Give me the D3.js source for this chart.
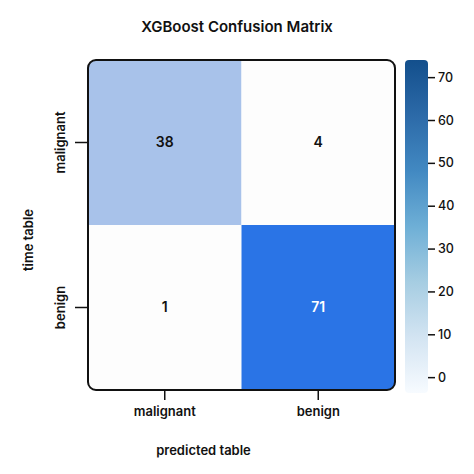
<!DOCTYPE html>
<html>
<head>
<meta charset="utf-8">
<script src="https://cdn.jsdelivr.net/npm/d3@7"></script>
<style>
  body { margin: 0; background: #fff; }
  text { font-family: Inter, "DejaVu Sans", sans-serif; fill: #111; }
</style>
</head>
<body>
<div id="chart"></div>
<script>
// confusion matrix values (rows = true, cols = predicted)
var classes = ["malignant", "benign"];
var counts = [[38, 4], [1, 71]];
var colorbarTicks = [0, 10, 20, 30, 40, 50, 60, 70];
var cellColors = ["#fdfdfd", "#fdfdfd", "#a8c2ea", "#2a74e6"];
var barColors = ["#f7fbff", "#d3e4f2", "#a6cde2", "#6eafd6", "#4289c2", "#2c6aa8", "#134f8c"];

var width = 474, height = 474;
var box = {left: 88, top: 60, right: 395, bottom: 390};

var svg = d3.select("#chart").append("svg")
    .attr("width", width)
    .attr("height", height);

svg.append("text")
    .attr("x", 237)
    .attr("y", 32)
    .attr("text-anchor", "middle")
    .style("font-size", "15px")
    .style("font-weight", 600)
    .text("XGBoost Confusion Matrix");

var x = d3.scaleBand().domain(classes).range([box.left, box.right]);
var y = d3.scaleBand().domain(classes).range([box.top, box.bottom]);

var cellColor = d3.scaleLinear()
    .domain([0, 5, 38, 71])
    .range(cellColors);

var cells = [];
counts.forEach(function(row, i) {
    row.forEach(function(v, j) {
        cells.push({row: classes[i], col: classes[j], value: v});
    });
});

svg.append("clipPath").attr("id", "boxclip")
    .append("rect")
    .attr("x", box.left).attr("y", box.top)
    .attr("width", box.right - box.left).attr("height", box.bottom - box.top)
    .attr("rx", 8);

var g = svg.append("g").attr("clip-path", "url(#boxclip)");

g.selectAll(".cell")
    .data(cells)
    .enter().append("rect")
    .attr("class", "cell")
    .attr("x", function(d) { return x(d.col); })
    .attr("y", function(d) { return y(d.row); })
    .attr("width", x.bandwidth())
    .attr("height", y.bandwidth())
    .style("fill", function(d) { return cellColor(d.value); });

svg.selectAll(".val")
    .data(cells)
    .enter().append("text")
    .attr("class", "val")
    .attr("x", function(d) { return x(d.col) + x.bandwidth() / 2; })
    .attr("y", function(d) { return y(d.row) + y.bandwidth() / 2; })
    .attr("dy", "0.35em")
    .attr("text-anchor", "middle")
    .style("font-size", "14px")
    .style("font-weight", 600)
    .style("fill", function(d) { return d.value > 60 ? "#fff" : "#111"; })
    .text(function(d) { return d.value; });

svg.append("rect")
    .attr("x", box.left).attr("y", box.top)
    .attr("width", box.right - box.left).attr("height", box.bottom - box.top)
    .attr("rx", 8)
    .style("fill", "none")
    .style("stroke", "#111")
    .style("stroke-width", 2);

// axes
var xAxis = svg.append("g")
    .attr("transform", "translate(0," + (box.bottom + 1) + ")")
    .call(d3.axisBottom(x).tickSize(9).tickPadding(5));
var yAxis = svg.append("g")
    .attr("transform", "translate(" + (box.left - 1) + ",0)")
    .call(d3.axisLeft(y).tickSize(12).tickPadding(4));

[xAxis, yAxis].forEach(function(a) {
    a.select(".domain").remove();
    a.selectAll(".tick line").style("stroke", "#111").style("stroke-width", 1.5);
    a.selectAll(".tick text")
        .style("font-size", "13px")
        .style("font-weight", 600)
        .style("font-family", "Inter, sans-serif")
        .style("fill", "#111");
});

yAxis.selectAll(".tick text")
    .attr("transform", "rotate(-90)")
    .attr("x", 0)
    .attr("y", -22)
    .attr("dy", 0)
    .attr("text-anchor", "middle");

xAxis.selectAll(".tick text").attr("dy", "0.85em");

svg.append("text")
    .attr("x", (box.left + box.right) / 2 - 38)
    .attr("y", 455)
    .attr("text-anchor", "middle")
    .style("font-size", "13px")
    .style("font-weight", 600)
    .text("predicted table");

svg.append("text")
    .attr("transform", "translate(33," + ((box.top + box.bottom) / 2 + 15) + ") rotate(-90)")
    .attr("text-anchor", "middle")
    .style("font-size", "13px")
    .style("font-weight", 600)
    .text("time table");

// colorbar
var bar = {x: 405, w: 23, top: 60, bottom: 393};
var cb = d3.scaleLinear().domain([-3.7, 74]).range([bar.bottom, bar.top]);

var grad = svg.append("defs").append("linearGradient")
    .attr("id", "cbgrad")
    .attr("x1", 0).attr("y1", 1).attr("x2", 0).attr("y2", 0);
grad.selectAll("stop")
    .data(barColors)
    .enter().append("stop")
    .attr("offset", function(d, i) { return i / (barColors.length - 1); })
    .attr("stop-color", function(d) { return d; });

svg.append("rect")
    .attr("x", bar.x).attr("y", bar.top)
    .attr("width", bar.w).attr("height", bar.bottom - bar.top)
    .attr("rx", 4)
    .style("fill", "url(#cbgrad)");

var cbAxis = svg.append("g")
    .attr("transform", "translate(" + (bar.x + bar.w) + ",0)")
    .call(d3.axisRight(cb).tickValues(colorbarTicks).tickSize(7).tickPadding(3));
cbAxis.select(".domain").remove();
cbAxis.selectAll(".tick line").style("stroke", "#111").style("stroke-width", 1.5);
cbAxis.selectAll(".tick text")
    .style("font-size", "12.5px")
    .style("font-weight", 500)
    .style("font-family", "Inter, sans-serif")
    .style("fill", "#111");
</script>
</body>
</html>
